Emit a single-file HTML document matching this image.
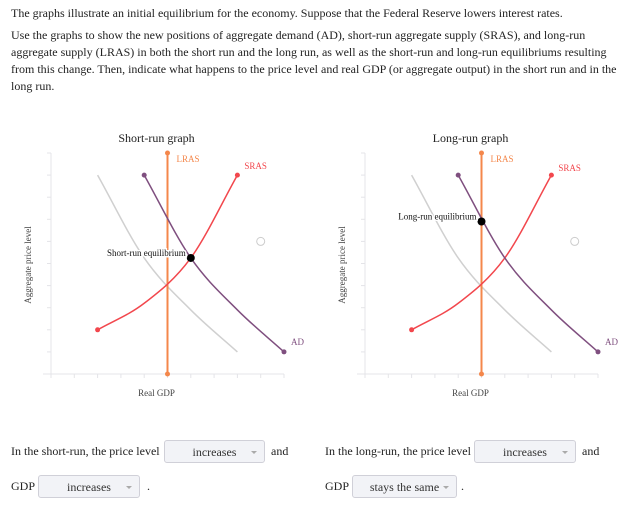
<!DOCTYPE html>
<html><head><meta charset="utf-8">
<style>
body{margin:0;width:621px;height:521px;background:#fff;font-family:"Liberation Serif",serif;color:#222;position:relative;overflow:hidden}
p{position:absolute;left:11px;margin:0;font-size:12px;line-height:17px;width:612px}
.t{position:absolute;font-size:12px;white-space:nowrap}
.dd{position:absolute;height:23px;border:1px solid #d0d0d8;border-radius:3px;background:#f2f3f7;font-size:12px;line-height:23px;text-align:center;color:#333;box-sizing:border-box}
.dd:after{content:"";position:absolute;right:7px;top:10px;border:3px solid transparent;border-top:3px solid #aaa}
svg{position:absolute;left:0;top:0}
</style></head><body>
<p style="top:5px">The graphs illustrate an initial equilibrium for the economy. Suppose that the Federal Reserve lowers interest rates.</p>
<p style="top:27px">Use the graphs to show the new positions of aggregate demand (AD), short-run aggregate supply (SRAS), and long-run aggregate supply (LRAS) in both the short run and the long run, as well as the short-run and long-run equilibriums resulting from this change. Then, indicate what happens to the price level and real GDP (or aggregate output) in the short run and in the long run.</p>

<svg id="chart" width="621" height="521"></svg>

<span class="t" style="left:11px;top:444px">In the short-run, the price level</span>
<div class="dd" style="left:164px;top:440px;width:101px">increases</div>
<span class="t" style="left:271px;top:444px">and</span>
<span class="t" style="left:11px;top:479px">GDP</span>
<div class="dd" style="left:38px;top:475px;width:102px">increases</div>
<span class="t" style="left:147px;top:479px">.</span>

<span class="t" style="left:325px;top:444px">In the long-run, the price level</span>
<div class="dd" style="left:474px;top:440px;width:102px">increases</div>
<span class="t" style="left:582px;top:444px">and</span>
<span class="t" style="left:325px;top:479px">GDP</span>
<div class="dd" style="left:352px;top:475px;width:105px">stays the same</div>
<span class="t" style="left:461px;top:479px">.</span>

<script>
const grayX=[2,4,6,8];
const grayY=[9,5.25,2.9,1];
const adX=[4,6,8,10];
const adY=[9,5.25,2.9,1];
const srasX=[2,4,6,8];
const srasY=[2,3.2,5.25,9];
const lrasX=5;
const srEq=[6,5.25];
const lrEq=[5,6.9];
const circlePt=[9,6];
const titles=["Short-run graph","Long-run graph"];
const eqLabels=["Short-run equilibrium","Long-run equilibrium"];

const NS="http://www.w3.org/2000/svg";
const svg=document.getElementById('chart');
function mk(tag,attrs,parent){const e=document.createElementNS(NS,tag);for(const k in attrs)e.setAttribute(k,attrs[k]);(parent||svg).appendChild(e);return e;}
function path(xs,ys,sx,sy){
  const p=xs.map((x,i)=>[sx(x),sy(ys[i])]);
  let d="M"+p[0][0]+","+p[0][1];
  for(let i=0;i<p.length-1;i++){
    const p0=p[i-1]||[2*p[0][0]-p[1][0],2*p[0][1]-p[1][1]],p1=p[i],p2=p[i+1];
    const n=p.length,p3=p[i+2]||[2*p[n-1][0]-p[n-2][0],2*p[n-1][1]-p[n-2][1]];
    const c1=[p1[0]+(p2[0]-p0[0])/6,p1[1]+(p2[1]-p0[1])/6];
    const c2=[p2[0]-(p3[0]-p1[0])/6,p2[1]-(p3[1]-p1[1])/6];
    d+=" C"+c1+" "+c2+" "+p2;
  }
  return d;
}
[51,365].forEach((x0,k)=>{
  const g=mk('g',{});
  
  
  const W=233,y0=374,H=221;
  const sx=v=>x0+v*W/10, sy=v=>y0-v*H/10;
  const ax=mk('g',{stroke:'#e4e4e8','stroke-width':1},g);
  
  
  mk('line',{x1:x0,y1:sy(10),x2:x0,y2:y0},ax);
  mk('line',{x1:x0-8,y1:y0,x2:sx(10),y2:y0},ax);
  for(let i=0;i<=10;i++){mk('line',{x1:x0-4,y1:sy(i),x2:x0,y2:sy(i)},ax);mk('line',{x1:sx(i),y1:y0,x2:sx(i),y2:y0+4},ax);}
  const tt=mk('text',{x:x0+W/2-11,y:142,'font-size':12,'text-anchor':'middle',fill:'#222'},g);tt.textContent=titles[k];
  
  const xl=mk('text',{x:x0+W/2-11,y:396,'font-size':9,'text-anchor':'middle',fill:'#444'},g);xl.textContent="Real GDP";
  
  const yl=mk('text',{x:0,y:0,'font-size':9,'text-anchor':'middle',fill:'#444',transform:`translate(${x0-20},265) rotate(-90)`},g);yl.textContent="Aggregate price level";
  
  const gr=mk('path',{d:path(grayX,grayY,sx,sy),fill:'none',stroke:'#d0d0d0','stroke-width':1.5},g);
  
  const lr=mk('line',{x1:sx(lrasX),y1:sy(10),x2:sx(lrasX),y2:sy(0),stroke:'#f4874b','stroke-width':2},g);
  
  [10,0].forEach(v=>{const c=mk('circle',{cx:sx(lrasX),cy:sy(v),r:2.5,fill:'#f4874b'},g);});
  const lt=mk('text',{x:sx(lrasX)+9,y:sy(10)+9,'font-size':9,fill:'#f4874b'},g);lt.textContent="LRAS";
  
  const sr=mk('path',{d:path(srasX,srasY,sx,sy),fill:'none',stroke:'#f2474d','stroke-width':1.5},g);
  
  [0,srasX.length-1].forEach(i=>{const c=mk('circle',{cx:sx(srasX[i]),cy:sy(srasY[i]),r:2.5,fill:'#f2474d'},g);});
  const st=mk('text',{x:sx(srasX[srasX.length-1])+7,y:sy(srasY[srasY.length-1])-6+k*2,'font-size':9,fill:'#f2474d'},g);st.textContent="SRAS";
  
  const ad=mk('path',{d:path(adX,adY,sx,sy),fill:'none',stroke:'#7f4f7f','stroke-width':1.5},g);
  
  [0,adX.length-1].forEach(i=>{const c=mk('circle',{cx:sx(adX[i]),cy:sy(adY[i]),r:2.5,fill:'#7f4f7f'},g);});
  const at=mk('text',{x:sx(adX[adX.length-1])+7,y:sy(adY[adY.length-1])-7,'font-size':9,fill:'#7f4f7f'},g);at.textContent="AD";
  
  const eq=k?lrEq:srEq;
  const ec=mk('circle',{cx:sx(eq[0]),cy:sy(eq[1]),r:4,fill:'#000'},g);
  
  const et=mk('text',{x:sx(eq[0])-5,y:sy(eq[1])-2,'font-size':9,'text-anchor':'end',fill:'#111',stroke:'#fff','stroke-width':3,'paint-order':'stroke'},g);et.textContent=eqLabels[k];
  
  const oc=mk('circle',{cx:sx(circlePt[0]),cy:sy(circlePt[1]),r:4,fill:'#fff',stroke:'#ccc','stroke-width':1},g);
  
});
</script>
</body></html>
